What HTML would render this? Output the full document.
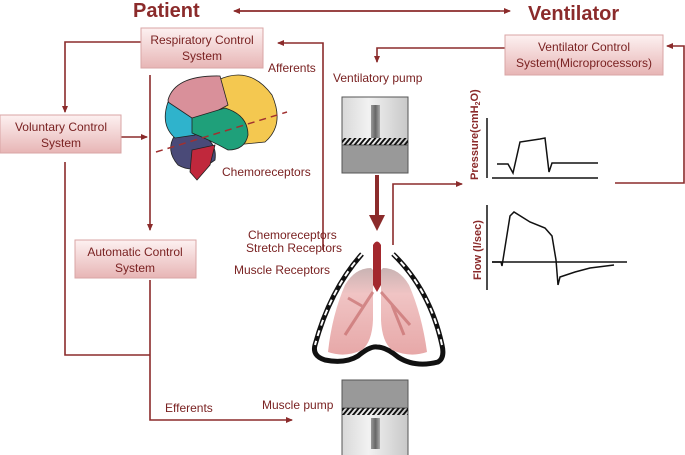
<!DOCTYPE html>
<html><head><meta charset="utf-8"><style>
html,body{margin:0;padding:0;background:#fff}
svg{display:block}
text{font-family:"Liberation Sans",sans-serif}
</style></head><body>
<svg width="685" height="455" viewBox="0 0 685 455" xmlns="http://www.w3.org/2000/svg">
<defs>
<marker id="a" markerWidth="8" markerHeight="8" refX="6" refY="4" orient="auto" markerUnits="userSpaceOnUse"><path d="M0,1 L7,4 L0,7 Z" fill="#8b2b2b"/></marker>
<linearGradient id="bx" x1="0" y1="0" x2="0" y2="1"><stop offset="0" stop-color="#fdf1f1"/><stop offset="1" stop-color="#e7b5b5"/></linearGradient>
<linearGradient id="cy" x1="0" y1="0" x2="1" y2="0"><stop offset="0" stop-color="#d8d8d8"/><stop offset="0.4" stop-color="#f2f2f2"/><stop offset="1" stop-color="#c8c8c8"/></linearGradient>
<linearGradient id="rod" x1="0" y1="0" x2="1" y2="0"><stop offset="0" stop-color="#999"/><stop offset="0.5" stop-color="#666"/><stop offset="1" stop-color="#aaa"/></linearGradient>
<pattern id="h" width="5" height="7" patternUnits="userSpaceOnUse" patternTransform="skewX(-40)"><rect width="2.5" height="7" fill="#111"/></pattern>
<linearGradient id="lg" x1="0" y1="0" x2="0" y2="1"><stop offset="0" stop-color="#c9b3b3"/><stop offset="0.3" stop-color="#f0c4c4"/><stop offset="1" stop-color="#e7a8a8"/></linearGradient>
</defs>
<g fill="#8b2b2b" font-weight="bold">
<text x="133" y="17" font-size="20">Patient</text>
<text x="528" y="20" font-size="20">Ventilator</text>
</g>
<g stroke="#8b2b2b" stroke-width="1.6" fill="none">
<line x1="240" y1="11" x2="510" y2="11" marker-end="url(#a)"/>
<line x1="500" y1="11" x2="234" y2="11" marker-end="url(#a)"/>
<polyline points="141,42 65,42 65,112" marker-end="url(#a)"/>
<line x1="121" y1="137" x2="147" y2="137" marker-end="url(#a)"/>
<line x1="150" y1="75" x2="150" y2="230" marker-end="url(#a)"/>
<polyline points="65,162 65,355 150,355"/>
<polyline points="150,280 150,420 292,420" marker-end="url(#a)"/>
<polyline points="323,250 323,43 278,43" marker-end="url(#a)"/>
<polyline points="505,48 377,48 377,62" marker-end="url(#a)"/>
<polyline points="393,245 393,184 462,184" marker-end="url(#a)"/>
<polyline points="615,183 684,183 684,46 667,46" marker-end="url(#a)"/>
</g>
<path d="M377,175 V218" stroke="#8b2b2b" stroke-width="4"/>
<path d="M369,215 L385,215 L377,231 Z" fill="#8b2b2b"/>
<g stroke="#d9a5a5" stroke-width="1" fill="url(#bx)">
<rect x="141" y="28" width="122" height="40"/>
<rect x="0" y="115" width="121" height="38"/>
<rect x="75" y="240" width="121" height="38"/>
<rect x="505" y="35" width="158" height="40"/>
</g>
<g fill="#7a2222" font-size="12" text-anchor="middle">
<text x="202" y="44">Respiratory Control</text><text x="202" y="60">System</text>
<text x="61" y="131">Voluntary Control</text><text x="61" y="147">System</text>
<text x="135" y="256">Automatic Control</text><text x="135" y="272">System</text>
<text x="584" y="51">Ventilator Control</text><text x="584" y="67">System(Microprocessors)</text>
</g>
<g fill="#7a2222" font-size="12">
<text x="268" y="72">Afferents</text>
<text x="333" y="82">Ventilatory pump</text>
<text x="222" y="176">Chemoreceptors</text>
<text x="248" y="239">Chemoreceptors</text>
<text x="246" y="252">Stretch Receptors</text>
<text x="234" y="274">Muscle Receptors</text>
<text x="165" y="412">Efferents</text>
<text x="262" y="409">Muscle pump</text>
</g>
<!-- brain -->
<g stroke="#222" stroke-width="0.8">
<path d="M175,135 Q165,150 178,165 Q195,175 215,160 Q218,140 195,132 Z" fill="#4a4a78"/>
<path d="M192,150 L215,145 L210,165 L197,180 L190,172 Z" fill="#c0283c"/>
<path d="M218,80 Q250,65 272,95 Q285,125 265,142 L235,145 L222,110 Z" fill="#f4c850"/>
<path d="M168,100 Q175,75 220,76 L228,105 L200,120 L172,120 Z" fill="#d9909a"/>
<path d="M168,102 L192,118 L195,135 L175,138 Q160,125 168,102 Z" fill="#2fb3cc"/>
<path d="M192,118 L225,108 Q248,115 248,135 Q245,150 228,150 Q210,140 192,133 Z" fill="#1fa07a"/>
</g>
<line x1="156" y1="152" x2="287" y2="112" stroke="#a03030" stroke-width="1.5" stroke-dasharray="7,5"/>
<!-- ventilatory pump -->
<rect x="342" y="97" width="66" height="76" fill="url(#cy)" stroke="#555"/>
<rect x="342" y="145" width="66" height="28" fill="#999" stroke="#555"/>
<rect x="342" y="138" width="66" height="7" fill="url(#h)"/>
<rect x="371" y="105" width="9" height="33" fill="url(#rod)"/>
<!-- muscle pump -->
<rect x="342" y="380" width="66" height="80" fill="url(#cy)" stroke="#555"/>
<rect x="342" y="380" width="66" height="28" fill="#999" stroke="#555"/>
<rect x="342" y="408" width="66" height="7" fill="url(#h)"/>
<rect x="371" y="418" width="9" height="31" fill="url(#rod)"/>
<!-- lungs -->
<path d="M362,254 Q330,290 315,345 Q312,356 325,360 Q345,364 358,356 Q370,346 377,347 Q386,347 398,357 Q415,368 438,362 Q445,358 442,345 Q430,290 393,254" fill="none" stroke="#111" stroke-width="5"/>
<path d="M362,254 Q330,290 315,345 M393,254 Q430,290 442,345" fill="none" stroke="#fff" stroke-width="2" stroke-dasharray="6,5"/>
<path d="M371,268 Q355,268 345,285 Q332,315 328,352 Q345,358 362,350 Q372,342 373,320 L373,270 Z" fill="url(#lg)"/>
<path d="M383,268 Q399,268 409,285 Q422,315 427,352 Q410,358 392,350 Q382,342 381,320 L381,270 Z" fill="url(#lg)"/>
<path d="M373,245 Q377,238 381,245 L381,285 L377,292 L373,285 Z" fill="#a3282e"/>
<g stroke="#c06060" stroke-width="3" fill="none" opacity="0.6"><path d="M373,292 L345,335 M362,306 L348,298 M381,292 L410,325 M392,305 L404,335"/></g>
<!-- pressure graph -->
<g stroke="#111" stroke-width="1.5" fill="none">
<line x1="487" y1="118" x2="487" y2="178"/><line x1="492" y1="178" x2="598" y2="178"/>
<path d="M497,164 L508,164 L513,173 L520,142 L540,139 L545,138 L549,172 L552,163 L598,163"/>
<line x1="487" y1="205" x2="487" y2="290"/><line x1="492" y1="262" x2="627" y2="262"/>
<path d="M492,262 L501,262 L502,266 L510,216 L514,212 L530,222 L545,228 L552,236 L556,260 L558,285 L560,277 L575,272 L590,268 L614,265"/>
</g>
<g fill="#8b2b2b" font-size="11" font-weight="bold">
<text transform="translate(478,180) rotate(-90)">Pressure(cmH<tspan font-size="7" dy="2">2</tspan><tspan dy="-2">O)</tspan></text>
<text transform="translate(481,280) rotate(-90)">Flow (l/sec)</text>
</g>
</svg>
</body></html>
